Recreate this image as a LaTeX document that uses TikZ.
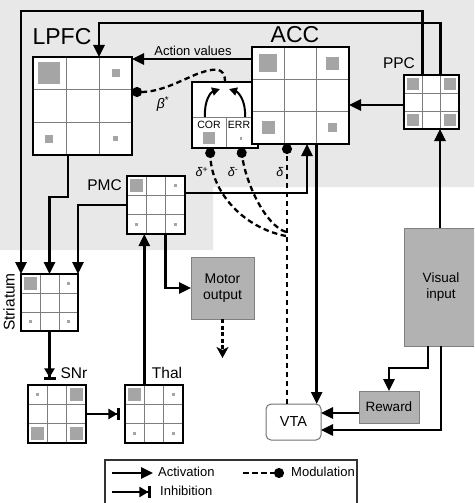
\documentclass[tikz,border=0pt]{standalone}
\usepackage{fontspec}
\setmainfont{Liberation Sans}
\usetikzlibrary{arrows.meta,calc}
\definecolor{bggray}{RGB}{232,232,232}
\definecolor{boxgray}{RGB}{178,178,178}
\definecolor{sqgray}{RGB}{165,165,165}
\definecolor{linegray}{RGB}{125,125,125}
\newcommand\fs[2]{\fontsize{#1}{#2}\selectfont}
\tikzset{
  gbase/.style={rectangle, fill=white, inner sep=0pt, outer sep=0pt},
  gridline/.style={line width=0.9pt, draw=linegray},
  border/.style={line width=2.6pt, draw=black},
  sqfill/.style={fill=sqgray},
  act/.style={line width=2.6pt, -{Triangle[length=12pt,width=11pt]}},
  inh/.style={line width=2.6pt, -{Triangle[length=9pt,width=10pt] Bar[width=12pt]}},
  mod/.style={line width=2.3pt, dash pattern=on 5.5pt off 3.5pt, -{Circle[length=10pt]}},
  graybox/.style={rectangle, fill=boxgray, draw=black!50, line width=1pt, inner sep=0pt, outer sep=0pt, align=center},
  lab/.style={inner sep=0pt},
  arcarrow/.style={line width=2pt, -{Triangle[length=8pt,width=8pt]}},
}
\newcommand\gbox[5]{%
  \node[gbase, minimum width={#4-#2}, minimum height={#5-#3}] (#1) at ({(#2+#4)/2},{(#3+#5)/2}) {};
  \foreach \gi in {1,2}{%
    \draw[gridline] ($(#1.north west)!\gi/3!(#1.north east)$) -- ($(#1.south west)!\gi/3!(#1.south east)$);
    \draw[gridline] ($(#1.north west)!\gi/3!(#1.south west)$) -- ($(#1.north east)!\gi/3!(#1.south east)$);
  }
  \draw[border] (#1.north west) rectangle (#1.south east);
}
\newcommand\sq[4]{%
  \pgfmathsetmacro\sqfx{(#2+0.5)/3}%
  \pgfmathsetmacro\sqfy{(#3+0.5)/3}%
  \path ($(#1.north west)!\sqfx!(#1.north east)$) coordinate (sqx)
        ($(#1.north west)!\sqfy!(#1.south west)$) coordinate (sqy);
  \fill[sqfill] (sqx |- sqy) ++({-#4/2},{-#4/2}) rectangle ++(#4,#4);
}
\begin{document}
\begin{tikzpicture}[x=1pt,y=-1pt]
\useasboundingbox (0,0) rectangle (474,503);
\clip (0,0) rectangle (474,503);
\fill[bggray] (0,0) -- (474,0) -- (474,187) -- (213,187) -- (213,250) -- (0,250) -- cycle;

% COR / ERR box
\node[gbase, minimum width=66, minimum height=66] (cor) at (225,115) {};
\draw[gridline] ($(cor.north west)+(0,35)$) -- ($(cor.north east)+(0,35)$);
\draw[gridline] ($(cor.south west)+(34,0)$) -- ($(cor.south west)+(34,-31)$);
\draw[border] (cor.north west) rectangle (cor.south east);
\node[lab, font=\fs{10.5}{12}] (corl) at (209,125) {COR};
\node[lab, font=\fs{10.5}{12}] (errl) at (239,125) {ERR};
\fill[sqfill] (203,132) rectangle (215,144);
\fill[sqfill] (239.5,137) rectangle (242,139.5);
\draw[arcarrow] (205,117) .. controls (204,100) and (211,92) .. (220,89);
\draw[arcarrow] (245,117) .. controls (246,100) and (238,92) .. (229,89);

% grids
\gbox{acc}{252}{47}{349}{144}
\sq{acc}{0}{0}{18}\sq{acc}{2}{0}{13}\sq{acc}{0}{2}{13}\sq{acc}{2}{2}{9}
\gbox{lpfc}{33}{57}{132}{155}
\sq{lpfc}{0}{0}{22}\sq{lpfc}{2}{0}{8}\sq{lpfc}{0}{2}{8}\sq{lpfc}{2}{2}{5}
\gbox{ppc}{404}{75}{459}{129}
\sq{ppc}{0}{0}{12}\sq{ppc}{2}{0}{12}\sq{ppc}{0}{2}{12}\sq{ppc}{2}{2}{12}
\gbox{pmc}{127}{176}{185}{234}
\sq{pmc}{0}{0}{13}\sq{pmc}{2}{0}{2.5}\sq{pmc}{0}{2}{2.5}\sq{pmc}{2}{2}{2.5}
\gbox{stri}{21}{274}{78}{331}
\sq{stri}{0}{0}{13}\sq{stri}{2}{0}{2.5}\sq{stri}{0}{2}{2.5}\sq{stri}{2}{2}{2.5}
\gbox{snr}{28}{385}{86}{443}
\sq{snr}{0}{0}{2.5}\sq{snr}{2}{0}{13}\sq{snr}{0}{2}{13}\sq{snr}{2}{2}{13}
\gbox{thal}{125}{385}{183}{443}
\sq{thal}{0}{0}{13}\sq{thal}{2}{0}{2.5}\sq{thal}{0}{2}{2.5}\sq{thal}{2}{2}{2.5}

% gray boxes
\node[graybox, minimum width=63, minimum height=62, font=\fs{14}{16}] (motor) at (222.5,288) {Motor\\output};
\node[graybox, minimum width=74, minimum height=118, font=\fs{13.5}{16}] (vis) at (441,287) {Visual\\input};
\node[graybox, minimum width=60, minimum height=32, font=\fs{13.5}{16}] (reward) at (389,407) {Reward};
\node[rectangle, rounded corners=5pt, fill=white, draw=black!55, line width=1pt, inner sep=0pt, outer sep=0pt,
      minimum width=55, minimum height=36, font=\fs{14.5}{16}] (vta) at (293.5,422) {VTA};

% labels
\node[lab, font=\fs{23}{26}] (lpfcl) at (62,37) {LPFC};
\node[lab, font=\fs{23}{26}] (accl) at (295,35) {ACC};
\node[lab, font=\fs{15.5}{18}] (ppcl) at (399,63) {PPC};
\node[lab, font=\fs{15.5}{18}] (pmcl) at (104.5,185) {PMC};
\node[lab, font=\fs{15.5}{18}, rotate=90] (stril) at (9,302) {Striatum};
\node[lab, font=\fs{15.5}{18}] (snrl) at (74,373) {SNr};
\node[lab, font=\fs{15.5}{18}] (thall) at (167,373) {Thal};
\node[lab, font=\fs{13}{15}] (avl) at (193,51) {Action values};
\node[lab, font=\fs{14}{16}] (betal) at (163,104) {\textit{β}\textsuperscript{*}};
\node[lab, font=\fs{12.5}{14}] (dpl) at (202,172) {\textit{δ}\textsuperscript{+}};
\node[lab, font=\fs{12.5}{14}] (dml) at (233,172) {\textit{δ}\textsuperscript{-}};
\node[lab, font=\fs{12.5}{14}] (dl) at (280,172) {\textit{δ}};

% activation connectors
\coordinate (ppct1) at ($(ppc.north west)!1/3!(ppc.north east)$);
\coordinate (ppct2) at ($(ppc.north west)!2/3!(ppc.north east)$);
\draw[act] (ppct1) |- ($(stri.north west)+(0,-263)$) -- (stri.north west);
\coordinate (lpfct) at ($(lpfc.north west)!2/3!(lpfc.north east)$);
\draw[act] (ppct2) |- ($(lpfct)+(0,-34)$) -- (lpfct);
\coordinate (lpfcb) at ($(lpfc.south west)+(35,0)$);
\draw[act] (lpfcb) |- ($(stri.north)+(0,-77)$) -- (stri.north);
\draw[act] (pmc.west) -| (stri.north east);
\coordinate (pmcr) at ($(pmc.north east)+(0,17)$);
\coordinate (accin) at ($(acc.south west)+(55,0)$);
\draw[act] (pmcr) -| (accin);
\coordinate (pmcb) at ($(pmc.south west)!2/3!(pmc.south east)$);
\draw[act] (pmcb) |- (motor.west);
\coordinate (thalt) at ($(thal.north west)!1/3!(thal.north east)$);
\draw[act] (thalt) -- (thalt |- pmc.south);
\draw[inh, shorten >=5pt] (stri.south) -- (stri.south |- snr.north);
\draw[inh, shorten >=5pt] (snr.east) -- (thal.west);
\coordinate (av) at ($(acc.north west)+(0,12)$);
\draw[act] (av) -- (av -| lpfc.east);
\coordinate (accb) at ($(acc.south west)!2/3!(acc.south east)$);
\draw[act] (accb) -- (accb |- vta.north);
\coordinate (ppcw) at ($(ppc.west)+(0,3)$);
\draw[act] (ppcw) -- (ppcw -| acc.east);
\coordinate (vist) at ($(vis.north west)+(36,0)$);
\draw[act] (vist) -- (vist |- ppc.south);
\coordinate (visb1) at ($(vis.south west)+(24,0)$);
\draw[act] (visb1) |- ($(reward.north)+(0,-23)$) -- (reward.north);
\coordinate (rw) at ($(reward.west)+(0,6)$);
\draw[act] (rw) -- (rw -| vta.east);
\coordinate (visb2) at ($(vis.south west)+(37,0)$);
\coordinate (vtae) at ($(vta.east)+(0,8)$);
\draw[act] (visb2) |- (vtae);
\coordinate (mend) at ($(motor.south)+(0,39)$);
\draw[line width=3.2pt, dash pattern=on 4pt off 2.5pt, -{Stealth[length=11pt,width=12pt,inset=3pt]}] (motor.south) -- (mend);

% modulation connectors
\coordinate (vtam) at ($(vta.north west)+(21,0)$);
\coordinate (accd) at ($(acc.south west)+(35,0)$);
\draw[mod] (vtam) -- (vtam |- accd);
\coordinate (merge) at ($(vtam)+(-1,-168)$);
\coordinate (dplus) at ($(cor.south west)+(18,0)$);
\coordinate (dminus) at ($(cor.south west)+(49,0)$);
\draw[mod] (merge) .. controls +(-42,-8) and +(2,45) .. (dplus);
\draw[mod] ($(merge)+(0,-4)$) .. controls (265,225) and (246,183) .. (dminus);
\coordinate (lpfcm) at ($(lpfc.east)+(0,-14)$);
\draw[mod] (cor.north) .. controls (225,66) and (214,68) .. (197,74) .. controls (178,82) and (160,92) .. (lpfcm);

% legend
\draw[line width=1.5pt, draw=black!80] (105,510) -- (105,460) -- (357,460) -- (357,510);
\coordinate (lg1a) at (112,473); \coordinate (lg1b) at (153,473);
\draw[act] (lg1a) -- (lg1b);
\node[lab, anchor=west, font=\fs{13}{15}] (lgact) at (158,472) {Activation};
\coordinate (lg2a) at (112,492); \coordinate (lg2b) at (151,492);
\draw[inh] (lg2a) -- (lg2b);
\node[lab, anchor=west, font=\fs{13}{15}] (lginh) at (160,491) {Inhibition};
\coordinate (lg3a) at (243,473); \coordinate (lg3b) at (284,473);
\draw[mod] (lg3a) -- (lg3b);
\node[lab, anchor=west, font=\fs{13}{15}] (lgmod) at (291,472) {Modulation};
\end{tikzpicture}
\end{document}
